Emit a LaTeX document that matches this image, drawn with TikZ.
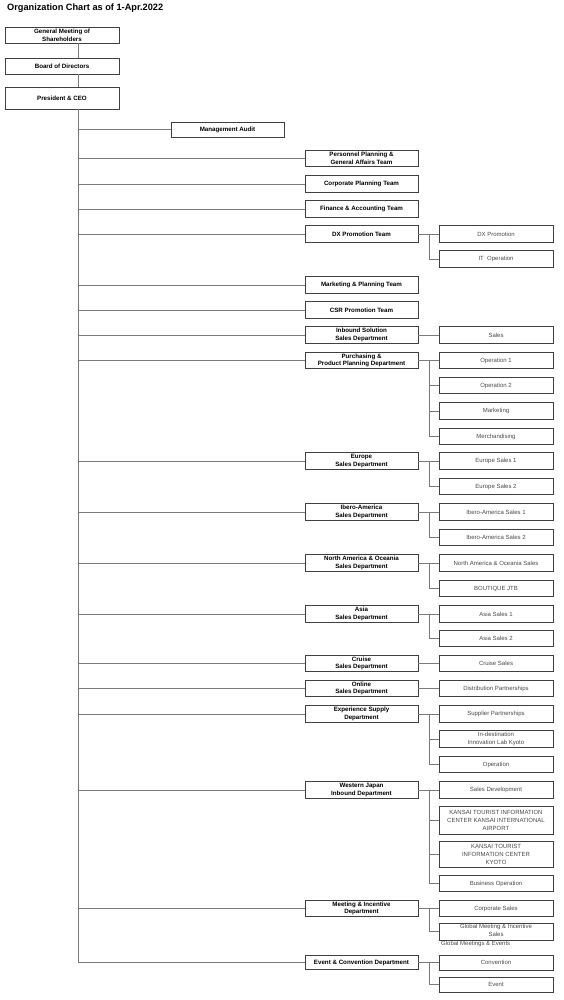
\documentclass[tikz,border=0pt]{standalone}
\usepackage{fontspec}
\setmainfont{Liberation Sans}
\definecolor{linec}{HTML}{7A7A7A}
\definecolor{boxc}{HTML}{404040}
\definecolor{subtext}{HTML}{4A4A4A}
\begin{document}
\begin{tikzpicture}[x=1pt,y=-1pt,
  mainbox/.style={draw=boxc,line width=0.7pt,fill=white,inner sep=0pt,
    minimum width=113pt,minimum height=16.5pt,align=center,
    font=\fontsize{6.2}{7.6}\selectfont\bfseries},
  subbox/.style={draw=boxc,line width=0.6pt,fill=white,inner sep=0pt,
    minimum width=114pt,minimum height=16.5pt,align=center,text=subtext,
    font=\fontsize{6}{8}\selectfont},
  conn/.style={draw=linec,line width=0.6pt}]
\useasboundingbox (0,0) rectangle (563,1000);
\node[anchor=north west,inner sep=0pt,font=\fontsize{9.2}{11}\selectfont\bfseries] (title) at (7,3.5) {Organization Chart as of 1-Apr.2022};
\coordinate (tx) at (78,0);
% top
\node[mainbox,minimum width=114pt,minimum height=16pt] (gm) at (62,35) {General Meeting of\\Shareholders};
\node[mainbox,minimum width=114pt,minimum height=16pt] (bd) at (62,66) {Board of Directors};
\node[mainbox,minimum width=114pt,minimum height=22pt] (ceo) at (62,98) {President \& CEO};
\node[mainbox,minimum height=15pt] (ma) at (227.5,129.5) {Management Audit};
% level 2
\node[mainbox] (pp) at (361.5,158.5) {Personnel Planning \&\\General Affairs Team};
\node[mainbox] (cp) at (361.5,184) {Corporate Planning Team};
\node[mainbox] (fa) at (361.5,209) {Finance \& Accounting Team};
\node[mainbox] (dx) at (361.5,234) {DX Promotion Team};
\node[mainbox] (mp) at (361.5,285) {Marketing \& Planning Team};
\node[mainbox] (csr) at (361.5,310) {CSR Promotion Team};
\node[mainbox] (ib) at (361.5,335) {Inbound Solution\\Sales Department};
\node[mainbox] (pu) at (361.5,360.5) {Purchasing \&\\Product Planning Department};
\node[mainbox] (eu) at (361.5,461) {Europe\\Sales Department};
\node[mainbox] (ia) at (361.5,512) {Ibero-America\\Sales Department};
\node[mainbox] (na) at (361.5,563) {North America \& Oceania\\Sales Department};
\node[mainbox] (as) at (361.5,614) {Asia\\Sales Department};
\node[mainbox] (cr) at (361.5,663.5) {Cruise\\Sales Department};
\node[mainbox] (on) at (361.5,688.5) {Online\\Sales Department};
\node[mainbox] (ex) at (361.5,714) {Experience Supply\\Department};
\node[mainbox] (wj) at (361.5,790) {Western Japan\\Inbound Department};
\node[mainbox] (mi) at (361.5,908.5) {Meeting \& Incentive\\Department};
\node[mainbox,minimum height=14pt] (ec) at (361.5,962.5) {Event \& Convention Department};
% sub
\node[subbox] (dx1) at (496,234) {DX Promotion};
\node[subbox] (dx2) at (496,259) {IT\ \ Operation};
\node[subbox] (ib1) at (496,335) {Sales};
\node[subbox] (pu1) at (496,360.5) {Operation 1};
\node[subbox] (pu2) at (496,385.5) {Operation 2};
\node[subbox] (pu3) at (496,411) {Marketing};
\node[subbox] (pu4) at (496,436.5) {Merchandising};
\node[subbox] (eu1) at (496,461) {Europe Sales 1};
\node[subbox] (eu2) at (496,486.5) {Europe Sales 2};
\node[subbox] (ia1) at (496,512) {Ibero-America Sales 1};
\node[subbox] (ia2) at (496,537.5) {Ibero-America Sales 2};
\node[subbox] (na1) at (496,563) {North America \& Oceania Sales};
\node[subbox] (na2) at (496,588.5) {BOUTIQUE JTB};
\node[subbox] (as1) at (496,614) {Asia Sales 1};
\node[subbox] (as2) at (496,638.5) {Asia Sales 2};
\node[subbox] (cr1) at (496,663.5) {Cruise Sales};
\node[subbox] (on1) at (496,688.5) {Distribution Partnerships};
\node[subbox] (ex1) at (496,714) {Supplier Partnerships};
\node[subbox] (ex2) at (496,739) {In-destination\\Innovation Lab Kyoto};
\node[subbox] (ex3) at (496,764.5) {Operation};
\node[subbox] (wj1) at (496,790) {Sales Development};
\node[subbox,minimum height=28pt] (wj2) at (496,820) {KANSAI TOURIST INFORMATION\\CENTER KANSAI INTERNATIONAL\\AIRPORT};
\node[subbox,minimum height=26pt] (wj3) at (496,854) {KANSAI TOURIST\\INFORMATION CENTER\\KYOTO};
\node[subbox] (wj4) at (496,883.5) {Business Operation};
\node[subbox] (mi1) at (496,908.5) {Corporate Sales};
\node[subbox,minimum height=17pt,text depth=1.5pt] (mi2) at (496,931.5) {Global Meeting \& Incentive\\Sales};
\node[anchor=west,inner sep=0pt,text=subtext,font=\fontsize{6}{8}\selectfont] (gme) at (441,944) {Global Meetings \& Events};
\node[subbox,minimum height=15pt] (ec1) at (496,962.5) {Convention};
\node[subbox,minimum height=15pt] (ec2) at (496,984.5) {Event};
% trunk connectors
\draw[conn] (tx|-gm.south) -- (tx|-bd.north);
\draw[conn] (tx|-bd.south) -- (tx|-ceo.north);
\draw[conn] (tx|-ceo.south) -- (tx|-ec.west);
\foreach \n in {ma,pp,cp,fa,dx,mp,csr,ib,pu,eu,ia,na,as,cr,on,ex,wj,mi,ec}
  \draw[conn] (tx|-\n.west) -- (\n.west);
% sub connectors
\foreach \p/\s in {dx/dx1,ib/ib1,pu/pu1,eu/eu1,ia/ia1,na/na1,as/as1,cr/cr1,on/on1,ex/ex1,wj/wj1,mi/mi1,ec/ec1}
  \draw[conn] (\p.east) -- (\s.west);
\foreach \p/\s in {dx/dx2,pu/pu2,pu/pu3,pu/pu4,eu/eu2,ia/ia2,na/na2,as/as2,ex/ex2,ex/ex3,wj/wj2,wj/wj3,wj/wj4,mi/mi2,ec/ec2}
  \draw[conn] (\p.east) -- ++(10.5,0) |- (\s.west);
\end{tikzpicture}
\end{document}
